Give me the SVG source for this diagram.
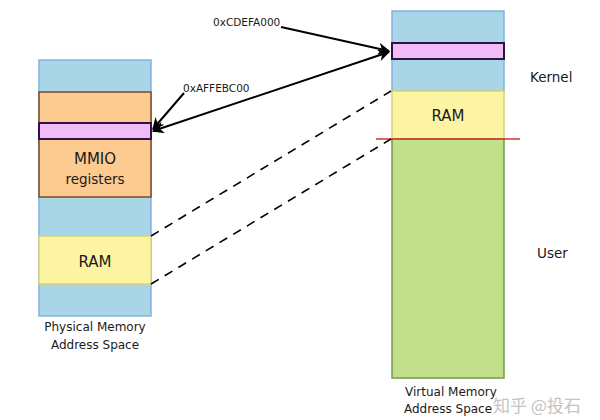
<svg xmlns="http://www.w3.org/2000/svg" width="600" height="420" viewBox="0 0 600 420">
<style>
text{font-family:"DejaVu Sans","Noto Sans",sans-serif;fill:#1a1a1a}
.blue{fill:#a9d6e6;stroke:#7fb2e5;stroke-width:1.5}
.orange{fill:#fdca90;stroke:#7a4a2a;stroke-width:1.5}
.pink{fill:#f0bbf8;stroke:#2e1446;stroke-width:2}
.yellow{fill:#fdf4a3;stroke:#d9d27a;stroke-width:1.5}
.green{fill:#c2e08b;stroke:#6f9a4f;stroke-width:1.5}
.lbl{font-size:12px;text-anchor:middle}
.big{font-size:15px;text-anchor:middle}
.side{font-size:13.5px}
.addr{font-size:10.5px}
.arrow{stroke:#000;stroke-width:2;fill:none}
.dash{stroke:#000;stroke-width:1.6;stroke-dasharray:9 7;fill:none}
</style>
<defs>
<marker id="ah" viewBox="0 0 10 10" refX="9" refY="5" markerWidth="6" markerHeight="6" orient="auto-start-reverse" markerUnits="strokeWidth">
<path d="M0,0 L10,5 L0,10 L3,5 Z" fill="#000"/>
</marker>
</defs>
<g id="physical">
<rect class="blue" x="39" y="60" width="112" height="256"/>
<rect class="orange" x="39" y="92" width="112" height="105"/>
<rect class="pink" x="39" y="123" width="112" height="16"/>
<text class="big" x="95" y="164">MMIO</text>
<text class="lbl" x="95" y="184" style="font-size:13.5px">registers</text>
<rect class="yellow" x="39" y="236" width="112" height="48"/>
<text class="big" x="95" y="267">RAM</text>
<text class="lbl" x="95" y="331">Physical Memory</text>
<text class="lbl" x="95" y="349">Address Space</text>
</g>
<g id="virtual">
<rect class="blue" x="392" y="11" width="112" height="80"/>
<rect class="pink" x="392" y="43" width="112" height="16"/>
<rect class="yellow" x="392" y="91" width="112" height="48"/>
<text class="big" x="448" y="121">RAM</text>
<rect class="green" x="392" y="139" width="112" height="239"/>
<line x1="376" y1="139" x2="520" y2="139" stroke="#d9312a" stroke-width="1.5"/>
<text class="lbl" x="451" y="396">Virtual Memory</text>
<text class="lbl" x="448" y="413">Address Space</text>
</g>
<g id="labels">
<text class="side" x="530" y="82">Kernel</text>
<text class="side" x="537" y="258">User</text>
<text class="addr" x="213" y="26">0xCDEFA000</text>
<text class="addr" x="183" y="92">0xAFFEBC00</text>
</g>
<g id="connectors">
<line class="arrow" x1="281" y1="27" x2="389" y2="51" marker-end="url(#ah)"/>
<line class="arrow" x1="184" y1="93" x2="153" y2="129" marker-end="url(#ah)"/>
<line class="arrow" x1="153" y1="131" x2="389" y2="52" marker-start="url(#ah)" marker-end="url(#ah)"/>
<line class="dash" x1="151" y1="236" x2="391" y2="91"/>
<line class="dash" x1="151" y1="284" x2="391" y2="139"/>
</g>
<text x="493" y="412" style="font-family:'Noto Sans CJK SC',sans-serif;font-size:17px;fill:#c4c4c4">知乎 @投石</text>
</svg>
